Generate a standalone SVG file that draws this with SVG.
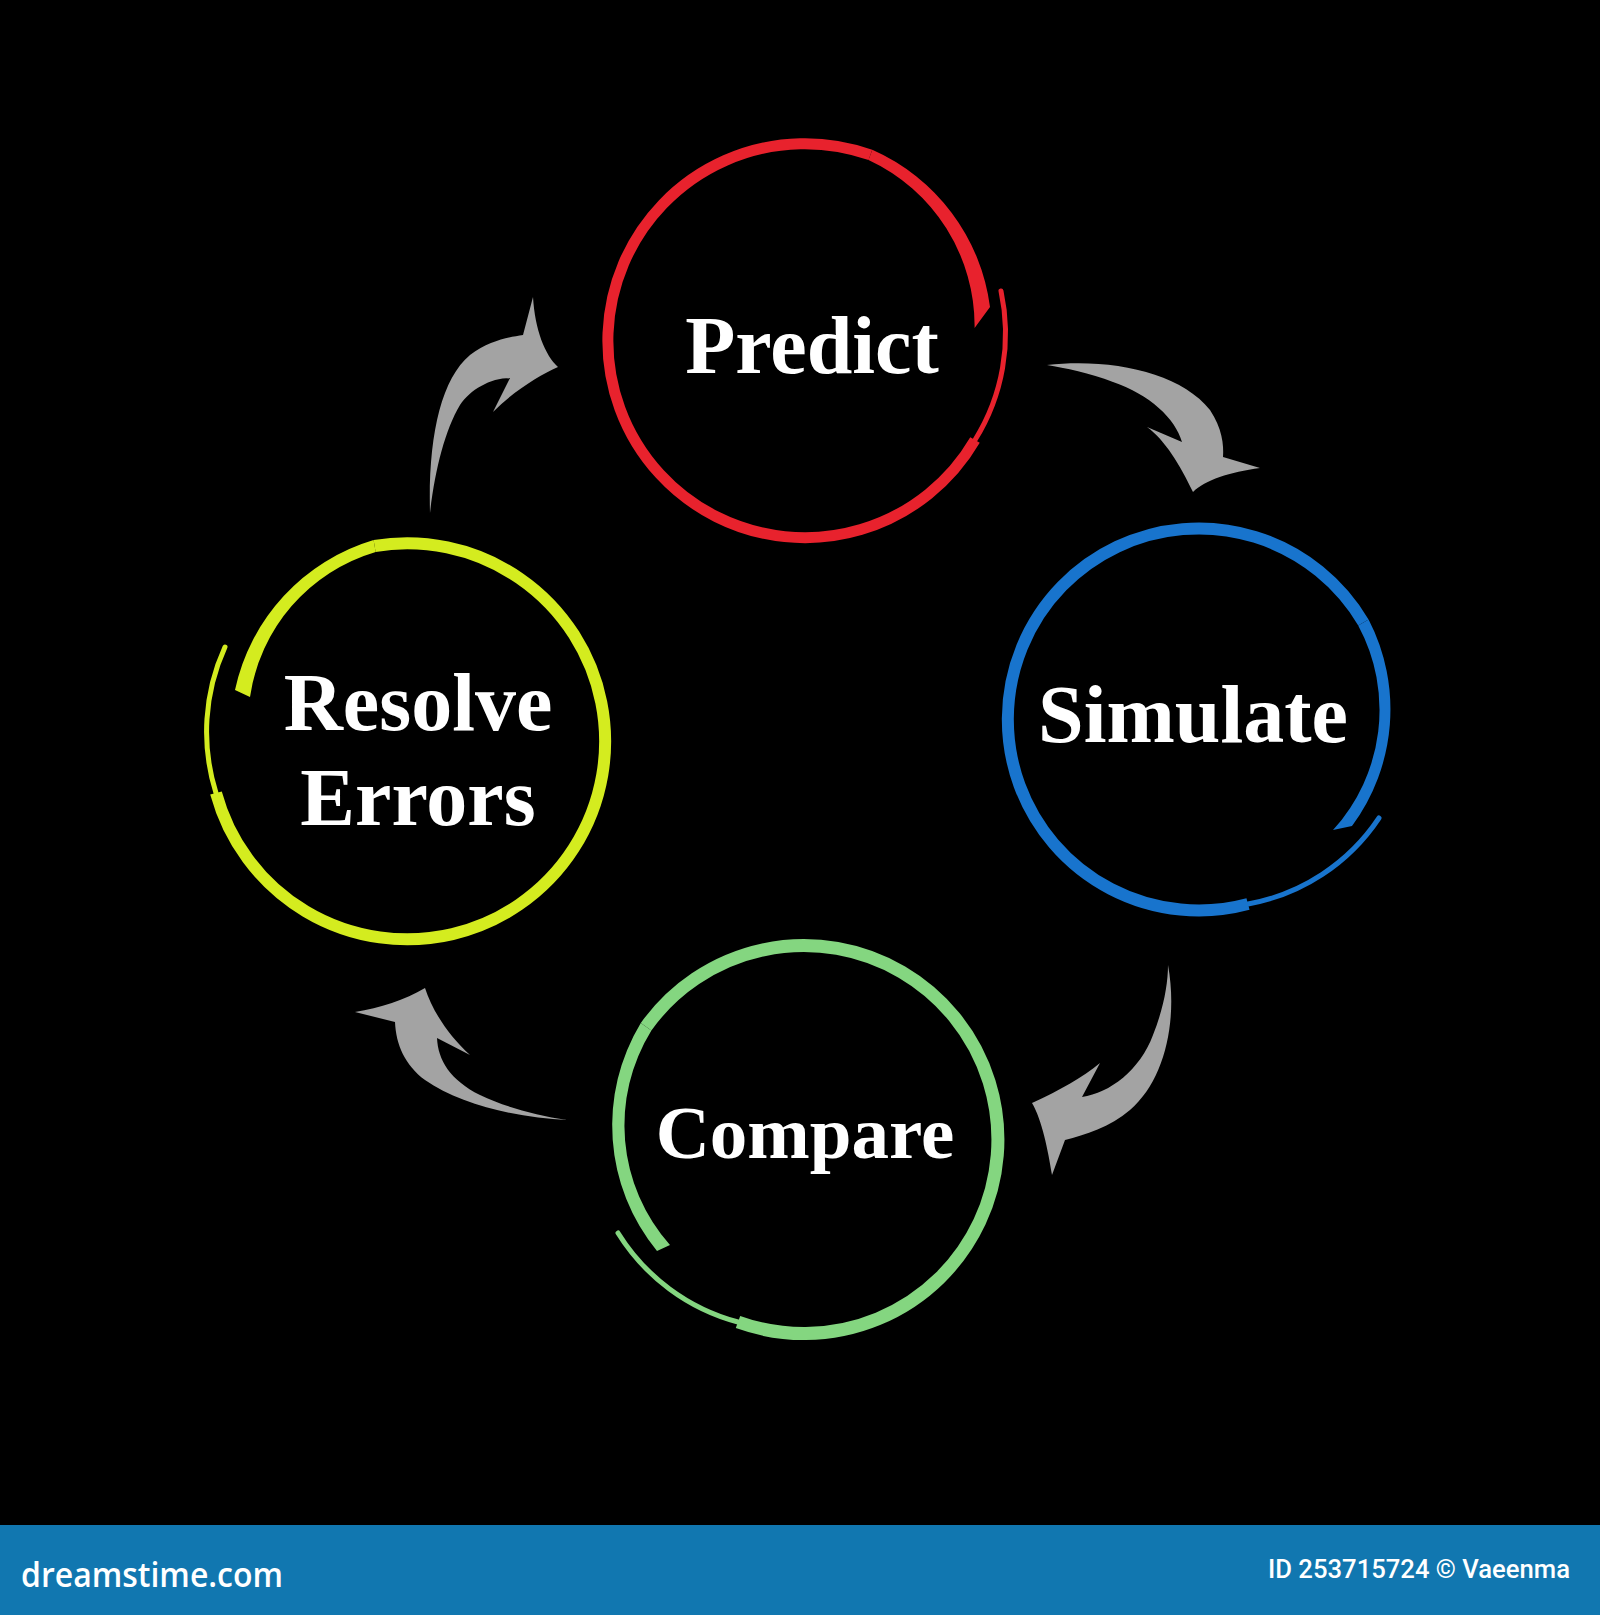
<svg xmlns="http://www.w3.org/2000/svg" width="1600" height="1615" viewBox="0 0 1600 1615">
<style>
.ring{fill:none;stroke-linecap:butt}
.thin{fill:none;stroke-linecap:round;stroke-width:5}
.lbl{font-family:"Liberation Serif","Times New Roman",serif;font-weight:bold;fill:#ffffff;text-anchor:middle}
.arrow{fill:#a3a3a3}
</style>
<rect x="0" y="0" width="1600" height="1615" fill="#000000"/>
<g id="connectors">
<path class="arrow" d="M430,513 C428,440 440,380 470,355 C490,340 510,337 523,335 L533,297 C535,330 545,355 558,367 C540,375 515,390 493,412 L510,378 C490,378 470,390 460,405 C445,430 435,470 430,513 Z"/>
<path class="arrow" d="M1047,365 C1110,358 1180,372 1210,410 C1222,428 1224,445 1223,457 L1260,468 C1230,472 1205,480 1193,492 C1180,465 1165,440 1147,427 L1182,442 C1175,418 1150,395 1113,382 C1090,373 1065,368 1047,365 Z"/>
<path class="arrow" d="M1168,965 C1178,1020 1165,1080 1130,1110 C1110,1127 1085,1135 1065,1140 L1052,1175 C1048,1150 1042,1120 1032,1103 C1060,1090 1082,1078 1100,1063 L1082,1097 C1110,1093 1140,1070 1153,1035 C1163,1010 1168,985 1168,965 Z"/>
<path class="arrow" d="M567,1120 C520,1118 460,1105 425,1080 C405,1065 396,1045 395,1022 L355,1012 C380,1008 405,1000 425,988 C432,1010 448,1035 470,1055 L437,1038 C438,1060 450,1080 480,1095 C505,1107 535,1115 567,1120 Z"/>
</g>
<g id="node-predict">
<path class="thin" stroke="#e8222d" d="M1001,291 A201 201 0 0 1 975,440"/>
<path class="ring" stroke="#e8222d" stroke-width="11" d="M975,440 A197 197 0 1 1 870.4,154.9"/>
<path fill="#e8222d" d="M872.3,149.7 A200 200 0 0 1 990,307 L974.6,328 A183 183 0 0 0 868.5,160 Z"/>
<text class="lbl" x="812" y="373" font-size="82">Predict</text>
</g>
<g id="node-simulate">
<path class="thin" stroke="#1874cd" d="M1379,818 A200 200 0 0 1 1248,904"/>
<path class="ring" stroke="#1874cd" stroke-width="12" d="M1248,904 A191 191 0 1 1 1363.4,622.5"/>
<path fill="#1874cd" d="M1368.6,619.5 A196 196 0 0 1 1352,826 L1333,830 A178 178 0 0 0 1358.2,625.5 Z"/>
<text class="lbl" x="1193" y="742" font-size="82">Simulate</text>
</g>
<g id="node-compare">
<path class="thin" stroke="#84d680" d="M618,1233 A203 203 0 0 0 738,1322"/>
<path class="ring" stroke="#84d680" stroke-width="13" d="M738,1322 A194 194 0 1 0 646.1,1026.7"/>
<path fill="#84d680" d="M640.8,1023 A198 198 0 0 0 657,1251 L670,1245 A180 180 0 0 1 651.4,1030.5 Z"/>
<text class="lbl" x="805" y="1158" font-size="75">Compare</text>
</g>
<g id="node-resolve">
<path class="thin" stroke="#d4ec1f" d="M225,647 A204 204 0 0 0 216,793"/>
<path class="ring" stroke="#d4ec1f" stroke-width="12" d="M216,793 A198 198 0 1 0 374.6,546"/>
<path fill="#d4ec1f" d="M373.6,540.1 A200 200 0 0 0 235,690 L250,697 A178 178 0 0 1 375.7,551.9 Z"/>
<text class="lbl" x="418" y="730" font-size="82">Resolve</text>
<text class="lbl" x="418" y="825" font-size="82">Errors</text>
</g>
<g id="footer">
<rect x="0" y="1525" width="1600" height="90" fill="#1177b0"/>
<text x="21" y="1587" font-family="'Open Sans',Lato,sans-serif" font-size="34" font-weight="600" fill="#ffffff" textLength="262" lengthAdjust="spacingAndGlyphs">dreamstime.com</text>
<text x="1268" y="1578" font-family="Roboto,'Noto Sans',sans-serif" font-size="25" font-weight="500" fill="#ffffff" textLength="302" lengthAdjust="spacingAndGlyphs">ID 253715724 © Vaeenma</text>
</g>
</svg>
